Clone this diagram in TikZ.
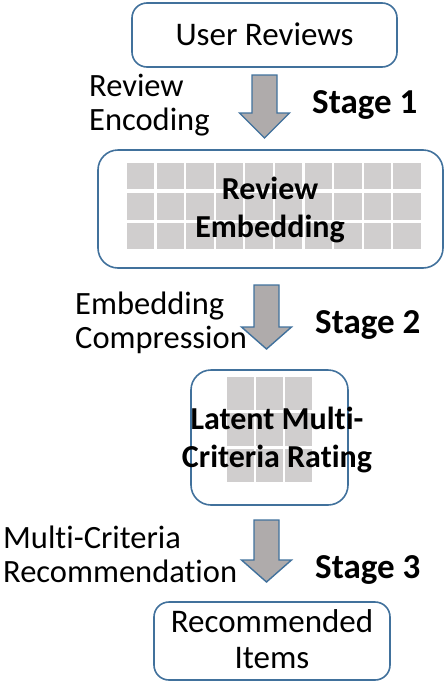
\documentclass[tikz,border=0pt]{standalone}
\usepackage{fontspec}
\setmainfont{Carlito}[Ligatures={NoCommon}]
\definecolor{boxblue}{HTML}{41719C}
\definecolor{cellgray}{HTML}{D0CECE}
\definecolor{arrowgray}{HTML}{AFABAB}
\tikzset{
  box/.style={draw=boxblue, line width=1.6pt, fill=white, inner sep=0pt},
  lbl/.style={font=\fontsize{32.5}{34}\selectfont, align=left, anchor=base west, inner sep=0pt},
  boxtext/.style={font=\fontsize{33}{36}\selectfont, align=center, anchor=base, inner sep=0pt},
  boldtext/.style={font=\fontsize{32}{38}\selectfont\bfseries, align=center, anchor=base, inner sep=0pt},
  stagelbl/.style={font=\fontsize{35}{40}\selectfont\bfseries, anchor=base west, inner sep=0pt},
  cell/.style={fill=cellgray},
  blockarrow/.style={draw=boxblue, line width=1.4pt, fill=arrowgray, line join=miter}
}
\newcommand{\blockarr}[4]{% x center, top y, head y, tip y
  \draw[blockarrow] (#1-12.5,#2) -- (#1+12.5,#2) -- (#1+12.5,#3) -- (#1+25,#3) -- (#1,#4) -- (#1-25,#3) -- (#1-12.5,#3) -- cycle;}
\begin{document}
\begin{tikzpicture}[x=1pt,y=-1pt]
\useasboundingbox (0,0) rectangle (446,683);
% User Reviews
\draw[box, rounded corners=15pt] (132,3) rectangle (397,67);
\node[boxtext] (user) at (264.5,45) {User Reviews};
% Arrow 1
\blockarr{264.5}{75}{113}{138}
\node[lbl] (enc) at (89,130) {Review\\Encoding};
\node[stagelbl] (s1) at (312,113) {Stage 1};
% Review Embedding box
\draw[box, rounded corners=20pt] (98,150) rectangle (443,268);
\foreach \i in {0,...,9} {
  \foreach \j/\ya/\yb in {0/163/189, 1/193/220, 2/223/249} {
    \fill[cell] (127+\i*29.6,\ya) rectangle (127+\i*29.6+27.4,\yb);
  }
}
\node[boldtext] (emb) at (270,237) {Review\\Embedding};
% Arrow 2
\blockarr{266.5}{285}{327}{349}
\node[lbl] (comp) at (75,348) {Embedding\\Compression};
\node[stagelbl] (s2) at (315,333) {Stage 2};
% Latent box
\draw[box, rounded corners=20pt] (191,370) rectangle (348,505);
\foreach \i in {0,1,2} {
  \foreach \ya/\yb in {377/410, 413/446, 449/482} {
    \fill[cell] (227+\i*29,\ya) rectangle (227+\i*29+27,\yb);
  }
}
\node[boldtext] (lat) at (277,467) {Latent Multi-\\Criteria Rating};
% Arrow 3
\blockarr{266.5}{520}{560}{582}
\node[lbl] (rec) at (3,582) {Multi-Criteria\\Recommendation};
\node[stagelbl] (s3) at (315,578) {Stage 3};
% Recommended Items
\draw[box, rounded corners=15pt] (154,602) rectangle (390,680);
\node[boxtext] (items) at (272,668) {Recommended\\Items};
\end{tikzpicture}
\end{document}
